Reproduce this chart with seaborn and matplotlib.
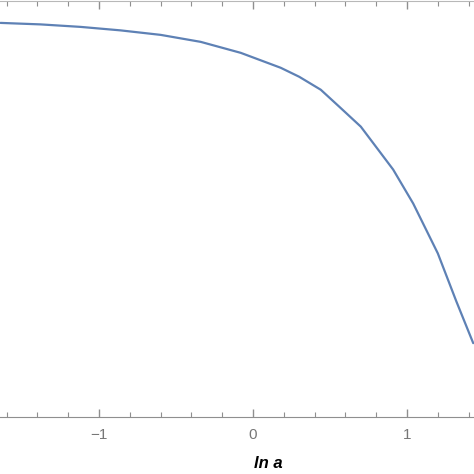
import matplotlib
matplotlib.use("Agg")
import matplotlib.pyplot as plt
import seaborn as sns
from matplotlib.ticker import MultipleLocator

# values
ln_a = [-1.64, -1.38, -1.12, -0.86, -0.60, -0.34, -0.08, 0.18, 0.30,
        0.44, 0.56, 0.70, 0.91, 1.04, 1.20, 1.32, 1.43]
value = [3.95, 3.935, 3.91, 3.875, 3.83, 3.76, 3.65, 3.50, 3.41,
         3.28, 3.11, 2.91, 2.48, 2.14, 1.64, 1.16, 0.74]

sns.set_style("white")
plt.rcParams['font.family'] = ['Liberation Sans', 'DejaVu Sans']

fig = plt.figure(figsize=(4.74, 4.74), dpi=100)
ax = fig.add_axes([0, 0.1203, 1, 0.8777])

sns.lineplot(x=ln_a, y=value, ax=ax, color='#5E81B5', linewidth=1.6)

ax.set_xlim(-1.643, 1.435)
ax.set_ylim(0, 4.17)

ax.xaxis.set_major_locator(MultipleLocator(1))
ax.xaxis.set_minor_locator(MultipleLocator(0.2))
ax.set_yticks([])

for side in ('left', 'right'):
    ax.spines[side].set_visible(False)
ax.spines['bottom'].set_color('#8f8f8f')
ax.spines['top'].set_color('#b8b8b8')

ax.tick_params(axis='x', which='both', direction='in', top=True, bottom=True,
               colors='#8f8f8f', labelcolor='#777777', labelsize=11, pad=8)
ax.tick_params(axis='x', which='major', length=6, width=1)
ax.tick_params(axis='x', which='minor', length=3.5, width=0.8)

ax.set_xlabel('ln a', fontsize=12, fontweight='bold', fontstyle='italic', color='black')
ax.xaxis.label.set_verticalalignment('center')
ax.xaxis.set_label_coords(268 / 474, -0.113)

fig.savefig('out.png', dpi=100)
plt.close(fig)
